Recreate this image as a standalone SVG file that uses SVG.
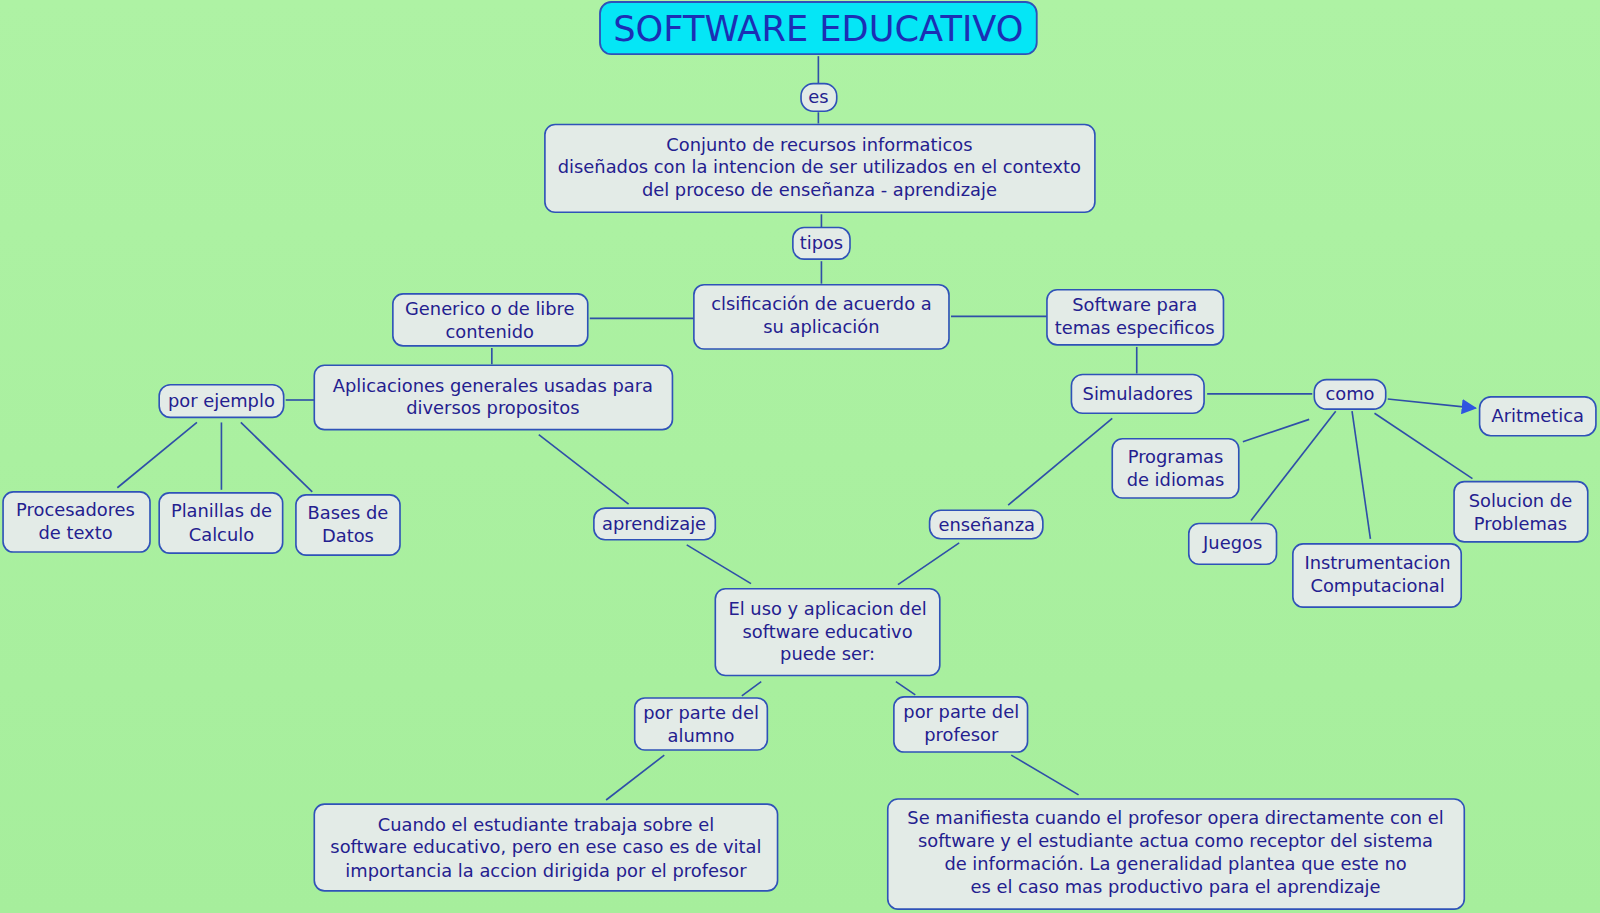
<svg xmlns="http://www.w3.org/2000/svg" width="1600" height="913" viewBox="0 0 1600 913">
<defs>
<style>
.n{fill:#e3ebe7;stroke:#2f52b8;stroke-width:1.6}
.t{font-family:"DejaVu Sans","Liberation Sans",sans-serif;font-size:17.5px;fill:#24208f;text-anchor:middle}
.c line{stroke:#2f4fa8;stroke-width:1.6}
</style>
<marker id="ah" viewBox="0 0 10 10" refX="9" refY="5" markerWidth="15" markerHeight="15" markerUnits="userSpaceOnUse" orient="auto"><path d="M0,0 L10,5 L0,10 z" fill="#2f55e0"/></marker>
<linearGradient id="bg" x1="0" y1="0" x2="0" y2="1"><stop offset="0" stop-color="#aef2a4"/><stop offset="1" stop-color="#a6ee9c"/></linearGradient>
</defs>
<rect width="1600" height="913" fill="url(#bg)"/>
<g transform="scale(1.020408)">
<g class="c" id="connectors">
<line x1="802" y1="55" x2="802" y2="82"/>
<line x1="802" y1="110" x2="802" y2="121"/>
<line x1="805" y1="210" x2="805" y2="223"/>
<line x1="805" y1="256" x2="805" y2="278"/>
<line x1="578" y1="312" x2="680" y2="312"/>
<line x1="932" y1="310" x2="1026" y2="310"/>
<line x1="482" y1="341" x2="482" y2="357"/>
<line x1="280" y1="392" x2="308" y2="392"/>
<line x1="193" y1="414" x2="115" y2="478"/>
<line x1="217" y1="414" x2="217" y2="480"/>
<line x1="236" y1="414" x2="306" y2="482"/>
<line x1="528" y1="426" x2="616" y2="494"/>
<line x1="673" y1="534" x2="736" y2="572"/>
<line x1="1114" y1="340" x2="1114" y2="366"/>
<line x1="1183" y1="386" x2="1286" y2="386"/>
<line x1="1360" y1="391" x2="1446" y2="400" marker-end="url(#ah)"/>
<line x1="1283" y1="411" x2="1218" y2="433"/>
<line x1="1309" y1="403" x2="1226" y2="510"/>
<line x1="1325" y1="403" x2="1343" y2="528"/>
<line x1="1347" y1="405" x2="1443" y2="469"/>
<line x1="1090" y1="410" x2="988" y2="495"/>
<line x1="940" y1="532" x2="880" y2="573"/>
<line x1="746" y1="668" x2="727" y2="682"/>
<line x1="878" y1="668" x2="897" y2="681"/>
<line x1="651" y1="740" x2="594" y2="784"/>
<line x1="991" y1="740" x2="1057" y2="779"/>
</g>
<g id="title">
<rect x="588" y="2" width="428" height="51" rx="11" fill="#05e6f6" stroke="#2f52b8" stroke-width="1.8"/>
<text x="802" y="40" font-family="DejaVu Sans,Liberation Sans,sans-serif" font-size="34" fill="#1c2fb4" text-anchor="middle" textLength="402" lengthAdjust="spacingAndGlyphs">SOFTWARE EDUCATIVO</text>
</g>
<g id="es"><rect class="n" x="785" y="82" width="35" height="27" rx="12"/><text class="t" x="802" y="101">es</text></g>
<g id="conjunto"><rect class="n" x="534" y="122" width="539" height="86" rx="10"/>
<text class="t" x="803" y="148">Conjunto de recursos informaticos</text>
<text class="t" x="803" y="170">diseñados con la intencion de ser utilizados en el contexto</text>
<text class="t" x="803" y="192">del proceso de enseñanza - aprendizaje</text></g>
<g id="tipos"><rect class="n" x="777" y="223" width="56" height="31" rx="11"/><text class="t" x="805" y="244">tipos</text></g>
<g id="clasificacion"><rect class="n" x="680" y="279" width="250" height="63" rx="10"/>
<text class="t" x="805" y="304">clsificación de acuerdo a</text>
<text class="t" x="805" y="326">su aplicación</text></g>
<g id="generico"><rect class="n" x="385" y="288" width="191" height="51" rx="10"/>
<text class="t" x="480" y="309">Generico o de libre</text>
<text class="t" x="480" y="331">contenido</text></g>
<g id="aplicaciones"><rect class="n" x="308" y="358" width="351" height="63" rx="10"/>
<text class="t" x="483" y="384">Aplicaciones generales usadas para</text>
<text class="t" x="483" y="406">diversos propositos</text></g>
<g id="porejemplo"><rect class="n" x="156" y="377" width="122" height="32" rx="11"/><text class="t" x="217" y="399">por ejemplo</text></g>
<g id="procesadores"><rect class="n" x="3" y="482" width="144" height="59" rx="10"/>
<text class="t" x="74" y="506">Procesadores</text><text class="t" x="74" y="528">de texto</text></g>
<g id="planillas"><rect class="n" x="156" y="483" width="121" height="59" rx="10"/>
<text class="t" x="217" y="507">Planillas de</text><text class="t" x="217" y="530">Calculo</text></g>
<g id="bases"><rect class="n" x="290" y="485" width="102" height="59" rx="10"/>
<text class="t" x="341" y="509">Bases de</text><text class="t" x="341" y="531">Datos</text></g>
<g id="aprendizaje"><rect class="n" x="582" y="498" width="119" height="31" rx="11"/><text class="t" x="641" y="519">aprendizaje</text></g>
<g id="softwarepara"><rect class="n" x="1026" y="284" width="173" height="54" rx="10"/>
<text class="t" x="1112" y="305">Software para</text><text class="t" x="1112" y="327">temas especificos</text></g>
<g id="simuladores"><rect class="n" x="1050" y="367" width="130" height="38" rx="11"/><text class="t" x="1115" y="392">Simuladores</text></g>
<g id="como"><rect class="n" x="1288" y="372" width="70" height="29" rx="12"/><text class="t" x="1323" y="392">como</text></g>
<g id="aritmetica"><rect class="n" x="1450" y="389" width="114" height="38" rx="11"/><text class="t" x="1507" y="414">Aritmetica</text></g>
<g id="programas"><rect class="n" x="1090" y="430" width="124" height="58" rx="10"/>
<text class="t" x="1152" y="454">Programas</text><text class="t" x="1152" y="476">de idiomas</text></g>
<g id="juegos"><rect class="n" x="1165" y="513" width="86" height="40" rx="10"/><text class="t" x="1208" y="538">Juegos</text></g>
<g id="instrumentacion"><rect class="n" x="1267" y="533" width="165" height="62" rx="10"/>
<text class="t" x="1350" y="558">Instrumentacion</text><text class="t" x="1350" y="580">Computacional</text></g>
<g id="solucion"><rect class="n" x="1425" y="472" width="131" height="59" rx="10"/>
<text class="t" x="1490" y="497">Solucion de</text><text class="t" x="1490" y="519">Problemas</text></g>
<g id="ensenanza"><rect class="n" x="911" y="500" width="111" height="28" rx="11"/><text class="t" x="967" y="520">enseñanza</text></g>
<g id="eluso"><rect class="n" x="701" y="577" width="220" height="85" rx="10"/>
<text class="t" x="811" y="603">El uso y aplicacion del</text>
<text class="t" x="811" y="625">software educativo</text>
<text class="t" x="811" y="647">puede ser:</text></g>
<g id="alumno"><rect class="n" x="622" y="684" width="130" height="51" rx="10"/>
<text class="t" x="687" y="705">por parte del</text><text class="t" x="687" y="727">alumno</text></g>
<g id="profesor"><rect class="n" x="876" y="683" width="131" height="54" rx="10"/>
<text class="t" x="942" y="704">por parte del</text><text class="t" x="942" y="726">profesor</text></g>
<g id="cuando"><rect class="n" x="308" y="788" width="454" height="85" rx="10"/>
<text class="t" x="535" y="814">Cuando el estudiante trabaja sobre el</text>
<text class="t" x="535" y="836">software educativo, pero en ese caso es de vital</text>
<text class="t" x="535" y="859">importancia la accion dirigida por el profesor</text></g>
<g id="semanifiesta"><rect class="n" x="870" y="783" width="565" height="108" rx="10"/>
<text class="t" x="1152" y="808">Se manifiesta cuando el profesor opera directamente con el</text>
<text class="t" x="1152" y="830">software y el estudiante actua como receptor del sistema</text>
<text class="t" x="1152" y="853">de información. La generalidad plantea que este no</text>
<text class="t" x="1152" y="875">es el caso mas productivo para el aprendizaje</text></g>
</g>
</svg>
